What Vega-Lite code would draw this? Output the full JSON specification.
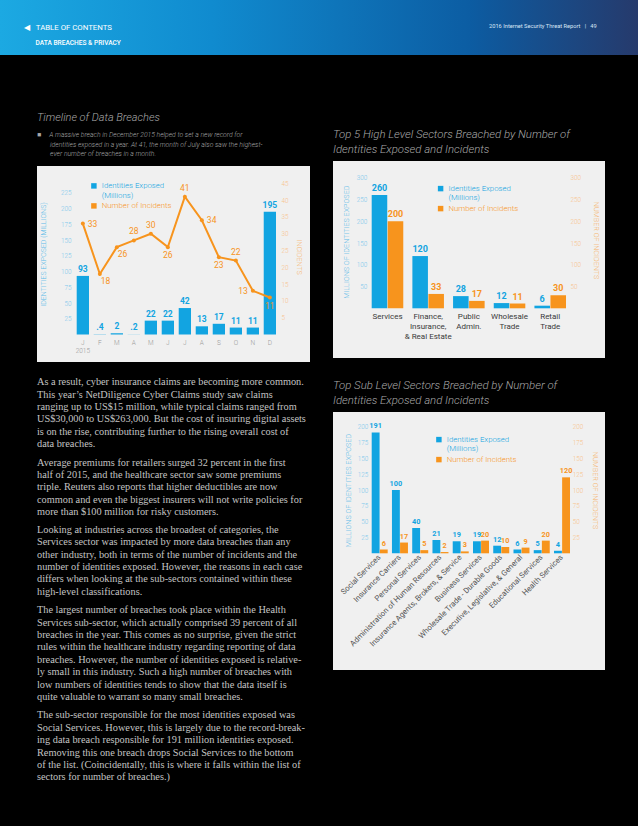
{
  "$schema": "https://vega.github.io/schema/vega-lite/v6.json",
  "background": "#000000",
  "padding": 0,
  "spacing": 0,
  "resolve": {"scale": {"color": "independent", "xOffset": "independent"}, "legend": {"color": "independent"}},
  "config": {
    "view": {"stroke": null},
    "font": "Roboto",
    "axis": {"domain": false, "ticks": false, "tickSize": 0, "grid": false, "labelPadding": 0, "labelFont": "Roboto", "labelFontWeight": 300, "labelFontSize": 6.3, "titleFont": "Roboto", "titleFontWeight": 300, "titleFontSize": 7, "labelOverlap": false, "labelFlush": false, "labelBound": false},
    "legend": {"padding": 0, "symbolType": "square", "symbolSize": 30, "symbolStrokeWidth": 0, "labelFont": "Roboto", "labelFontWeight": 300, "labelFontSize": 7.8, "labelLimit": 0, "labelOffset": 4, "rowPadding": 1, "labelBaseline": "top"}
  },
  "datasets": {
    "timeline": [
      {"month": "Jan", "identities": 93, "incidents": 33},
      {"month": "Feb", "identities": 0.4, "incidents": 18},
      {"month": "Mar", "identities": 2, "incidents": 26},
      {"month": "Apr", "identities": 0.2, "incidents": 28},
      {"month": "May", "identities": 22, "incidents": 30},
      {"month": "Jun", "identities": 22, "incidents": 26},
      {"month": "Jul", "identities": 42, "incidents": 41},
      {"month": "Aug", "identities": 13, "incidents": 34},
      {"month": "Sep", "identities": 17, "incidents": 23},
      {"month": "Oct", "identities": 11, "incidents": 22},
      {"month": "Nov", "identities": 11, "incidents": 13},
      {"month": "Dec", "identities": 195, "incidents": 11}
    ],
    "top5": [
      {"sector": "Services", "identities": 260, "incidents": 200},
      {"sector": "Finance, Insurance, & Real Estate", "identities": 120, "incidents": 33},
      {"sector": "Public Admin.", "identities": 28, "incidents": 17},
      {"sector": "Wholesale Trade", "identities": 12, "incidents": 11},
      {"sector": "Retail Trade", "identities": 6, "incidents": 30}
    ],
    "sub": [
      {"sector": "Social Services", "identities": 191, "incidents": 6},
      {"sector": "Insurance Carriers", "identities": 100, "incidents": 17},
      {"sector": "Personal Services", "identities": 40, "incidents": 5},
      {"sector": "Administration of Human Resources", "identities": 21, "incidents": 2},
      {"sector": "Insurance Agents, Brokers, & Service", "identities": 19, "incidents": 3},
      {"sector": "Business Services", "identities": 19, "incidents": 20},
      {"sector": "Wholesale Trade - Durable Goods", "identities": 12, "incidents": 10},
      {"sector": "Executive, Legislative, & General", "identities": 6, "incidents": 9},
      {"sector": "Educational Services", "identities": 5, "incidents": 20},
      {"sector": "Health Services", "identities": 4, "incidents": 120}
    ],
    "body": [
      {"p": 1, "line": 1, "text": "As a result, cyber insurance claims are becoming more common."},
      {"p": 1, "line": 2, "text": "This year’s NetDiligence Cyber Claims study saw claims"},
      {"p": 1, "line": 3, "text": "ranging up to US$15 million, while typical claims ranged from"},
      {"p": 1, "line": 4, "text": "US$30,000 to US$263,000. But the cost of insuring digital assets"},
      {"p": 1, "line": 5, "text": "is on the rise, contributing further to the rising overall cost of"},
      {"p": 1, "line": 6, "text": "data breaches."},
      {"p": 2, "line": 1, "text": "Average premiums for retailers surged 32 percent in the first"},
      {"p": 2, "line": 2, "text": "half of 2015, and the healthcare sector saw some premiums"},
      {"p": 2, "line": 3, "text": "triple. Reuters also reports that higher deductibles are now"},
      {"p": 2, "line": 4, "text": "common and even the biggest insurers will not write policies for"},
      {"p": 2, "line": 5, "text": "more than $100 million for risky customers."},
      {"p": 3, "line": 1, "text": "Looking at industries across the broadest of categories, the"},
      {"p": 3, "line": 2, "text": "Services sector was impacted by more data breaches than any"},
      {"p": 3, "line": 3, "text": "other industry, both in terms of the number of incidents and the"},
      {"p": 3, "line": 4, "text": "number of identities exposed. However, the reasons in each case"},
      {"p": 3, "line": 5, "text": "differs when looking at the sub-sectors contained within these"},
      {"p": 3, "line": 6, "text": "high-level classifications."},
      {"p": 4, "line": 1, "text": "The largest number of breaches took place within the Health"},
      {"p": 4, "line": 2, "text": "Services sub-sector, which actually comprised 39 percent of all"},
      {"p": 4, "line": 3, "text": "breaches in the year. This comes as no surprise, given the strict"},
      {"p": 4, "line": 4, "text": "rules within the healthcare industry regarding reporting of data"},
      {"p": 4, "line": 5, "text": "breaches. However, the number of identities exposed is relative-"},
      {"p": 4, "line": 6, "text": "ly small in this industry. Such a high number of breaches with"},
      {"p": 4, "line": 7, "text": "low numbers of identities tends to show that the data itself is"},
      {"p": 4, "line": 8, "text": "quite valuable to warrant so many small breaches."},
      {"p": 5, "line": 1, "text": "The sub-sector responsible for the most identities exposed was"},
      {"p": 5, "line": 2, "text": "Social Services. However, this is largely due to the record-break-"},
      {"p": 5, "line": 3, "text": "ing data breach responsible for 191 million identities exposed."},
      {"p": 5, "line": 4, "text": "Removing this one breach drops Social Services to the bottom"},
      {"p": 5, "line": 5, "text": "of the list. (Coincidentally, this is where it falls within the list of"},
      {"p": 5, "line": 6, "text": "sectors for number of breaches.)"}
    ]
  },
  "vconcat": [
    {
      "hconcat": [
        {
          "width": 470, "height": 55,
          "view": {"fill": {"gradient": "linear", "x1": 0, "y1": 0, "x2": 1, "y2": 0, "stops": [{"offset": 0, "color": "#1ca9e2"}, {"offset": 0.45, "color": "#108bcf"}, {"offset": 1, "color": "#0c5da3"}]}},
          "title": {"text": "◀\u00a0\u00a0\u00a0TABLE OF CONTENTS", "subtitle": "\u200b\u00a0\u00a0\u00a0\u00a0\u00a0\u00a0\u00a0DATA BREACHES & PRIVACY", "anchor": "start", "frame": "group", "orient": "top", "offset": -47, "dx": 24, "font": "Roboto", "fontSize": 7.8, "fontWeight": 400, "color": "#ffffff", "subtitleFont": "Roboto", "subtitleFontSize": 6.6, "subtitleFontWeight": 500, "subtitleColor": "#ffffff", "subtitlePadding": 9},
          "data": {"values": [{}]},
          "mark": {"type": "text", "text": ""}
        },
        {
          "width": 168, "height": 55,
          "view": {"fill": {"gradient": "linear", "x1": 0, "y1": 0, "x2": 1, "y2": 0, "stops": [{"offset": 0, "color": "#0c5ca2"}, {"offset": 1, "color": "#263a6c"}]}},
          "title": {"text": "2016 Internet Security Threat Report\u00a0\u00a0\u00a0|\u00a0\u00a0\u00a049", "anchor": "start", "frame": "group", "orient": "top", "offset": -29, "dx": 19, "font": "Roboto", "fontSize": 5.7, "fontWeight": 400, "color": "#d8e6f5"},
          "data": {"values": [{}]},
          "mark": {"type": "text", "text": ""}
        }
      ],
      "spacing": 0,
      "resolve": {"scale": {"color": "independent"}, "legend": {"color": "independent"}}
    },
    {
      "hconcat": [
        {"width": 37, "height": 40, "data": {"values": [{}]}, "mark": {"type": "text", "text": ""}},
        {
          "vconcat": [
            {
              "width": 273, "height": 111,
              "title": {
                "text": "Timeline of Data Breaches",
                "subtitle": ["■\u00a0\u00a0\u00a0\u00a0\u00a0A massive breach in December 2015 helped to set a new record for", "\u200b\u00a0\u00a0\u00a0\u00a0\u00a0\u00a0\u00a0\u00a0identities exposed in a year. At 41, the month of July also saw the highest-", "\u200b\u00a0\u00a0\u00a0\u00a0\u00a0\u00a0\u00a0\u00a0ever number of breaches in a month."],
                "anchor": "start", "frame": "group", "orient": "top", "offset": -103,
                "font": "Roboto", "fontSize": 11, "fontStyle": "italic", "fontWeight": 300, "color": "#a8a8a8",
                "subtitleFont": "Roboto", "subtitleFontSize": 6.8, "subtitleFontStyle": "italic", "subtitleFontWeight": 300, "subtitleColor": "#a8a8a8", "subtitleLineHeight": 9.4, "subtitlePadding": 9
              },
              "data": {"values": [{}]}, "mark": {"type": "text", "text": ""}
            },
            {
              "width": 273, "height": 196,
              "view": {"fill": "#f0f0f0"},
              "data": {"name": "timeline"},
              "encoding": {
                "x": {"field": "month", "type": "nominal", "sort": null,
                  "scale": {"range": [39.7, 239], "paddingInner": 0.278, "paddingOuter": 0},
                  "axis": {"title": null, "orient": "bottom", "offset": -22.2, "labelAngle": 0, "labelAlign": "center", "labelBaseline": "top", "labelColor": "#9a9a9a", "labelFontSize": 6.5, "labelLineHeight": 7.5, "labelOverlap": false,
                    "labelExpr": "datum.value == 'Jan' ? ['J', '2015'] : substring(datum.value, 0, 1)"}}
              },
              "layer": [
                {
                  "layer": [
                    {
                      "mark": {"type": "bar"},
                      "encoding": {
                        "y": {"field": "identities", "type": "quantitative",
                          "scale": {"domain": [0, 225], "range": [168.5, 17.3]},
                          "axis": {"orient": "left", "offset": -34, "values": [25, 50, 75, 100, 125, 150, 175, 200, 225], "tickCount": 30, "labelOverlap": false, "labelColor": "#7cc7ec", "title": "IDENTITIES EXPOSED (MILLIONS)", "titleColor": "#5cbbe8", "titleX": -27.7, "titleY": 88, "titleAngle": -90, "titleAlign": "center", "titleBaseline": "middle"}},
                        "color": {"datum": "Identities Exposed (Millions)",
                          "scale": {"domain": ["Identities Exposed (Millions)", "Number of Incidents"], "range": ["#12a4e1", "#f7941d"]},
                          "legend": {"title": null, "orient": "none", "legendX": 53, "legendY": 16, "direction": "vertical",
                            "labelExpr": "datum.value == 'Identities Exposed (Millions)' ? ['Identities Exposed', '(Millions)'] : datum.label",
                            "labelLineHeight": 9.7,
                            "encode": {
                              "symbols": {"update": {"shape": {"value": "square"}, "fill": {"signal": "datum.value == 'Number of Incidents' ? '#f7941d' : '#12a4e1'"}, "stroke": {"value": "transparent"}, "opacity": {"value": 1}}},
                              "labels": {"update": {"fill": {"signal": "datum.value == 'Number of Incidents' ? '#f7941d' : '#12a4e1'"}, "dy": {"value": -4}}}
                            }}}
                      }
                    },
                    {
                      "mark": {"type": "text", "baseline": "bottom", "dy": -2, "font": "Roboto", "fontWeight": "bold", "fontSize": 8.5, "color": "#12a4e1",
                        "text": {"expr": "datum.identities < 1 ? '.' + round(datum.identities * 10) : '' + datum.identities"}},
                      "encoding": {"y": {"field": "identities", "type": "quantitative"}}
                    }
                  ]
                },
                {
                  "layer": [
                    {
                      "mark": {"type": "line", "strokeWidth": 2},
                      "encoding": {
                        "y": {"field": "incidents", "type": "quantitative",
                          "scale": {"domain": [0, 45], "range": [168.5, 17.3]},
                          "axis": {"orient": "right", "offset": -29, "values": [5, 10, 15, 20, 25, 30, 35, 40, 45], "tickCount": 30, "labelOverlap": false, "labelColor": "#f8c28a", "title": "INCIDENTS", "titleColor": "#f6b46c", "titleX": 17, "titleY": 90.7, "titleAngle": 90, "titleAlign": "center", "titleBaseline": "middle"}},
                        "color": {"datum": "Number of Incidents"}
                      }
                    },
                    {
                      "mark": {"type": "point", "filled": true, "size": 16, "opacity": 1, "color": "#f7941d"},
                      "encoding": {"y": {"field": "incidents", "type": "quantitative"}}
                    },
                    {
                      "transform": [{"filter": "indexof(['Apr','May','Jul','Oct'], datum.month) >= 0"}],
                      "mark": {"type": "text", "baseline": "bottom", "align": "center", "dy": -4, "font": "Roboto", "fontSize": 8.5, "color": "#f7941d"},
                      "encoding": {"y": {"field": "incidents", "type": "quantitative"}, "text": {"field": "incidents", "type": "quantitative"}}
                    },
                    {
                      "transform": [{"filter": "indexof(['Jun','Sep','Dec'], datum.month) >= 0"}],
                      "mark": {"type": "text", "baseline": "top", "align": "center", "dy": 4, "font": "Roboto", "fontSize": 8.5, "color": "#f7941d"},
                      "encoding": {"y": {"field": "incidents", "type": "quantitative"}, "text": {"field": "incidents", "type": "quantitative"}}
                    },
                    {
                      "transform": [{"filter": "indexof(['Feb','Mar'], datum.month) >= 0"}],
                      "mark": {"type": "text", "baseline": "top", "align": "left", "dx": 1, "dy": 3, "font": "Roboto", "fontSize": 8.5, "color": "#f7941d"},
                      "encoding": {"y": {"field": "incidents", "type": "quantitative"}, "text": {"field": "incidents", "type": "quantitative"}}
                    },
                    {
                      "transform": [{"filter": "indexof(['Jan','Aug'], datum.month) >= 0"}],
                      "mark": {"type": "text", "baseline": "middle", "align": "left", "dx": 5, "font": "Roboto", "fontSize": 8.5, "color": "#f7941d"},
                      "encoding": {"y": {"field": "incidents", "type": "quantitative"}, "text": {"field": "incidents", "type": "quantitative"}}
                    },
                    {
                      "transform": [{"filter": "datum.month == 'Nov'"}],
                      "mark": {"type": "text", "baseline": "middle", "align": "right", "dx": -5, "font": "Roboto", "fontSize": 8.5, "color": "#f7941d"},
                      "encoding": {"y": {"field": "incidents", "type": "quantitative"}, "text": {"field": "incidents", "type": "quantitative"}}
                    }
                  ]
                }
              ],
              "resolve": {"scale": {"y": "independent"}}
            },
            {"width": 273, "height": 14, "data": {"values": [{}]}, "mark": {"type": "text", "text": ""}},
            {
              "vconcat": [
                {
                  "width": 296, "height": {"step": 12.4},
                  "data": {"name": "body"},
                  "transform": [{"filter": "datum.p == 1"}],
                  "mark": {"type": "text", "align": "left", "baseline": "middle", "font": "Liberation Serif", "fontSize": 10.3, "color": "#c4c4c4"},
                  "encoding": {"y": {"field": "line", "type": "ordinal", "axis": null}, "x": {"datum": 0, "type": "quantitative", "scale": {"domain": [0, 1], "range": [0, 268]}, "axis": null}, "text": {"field": "text"}}
                },
                {
                  "width": 296, "height": {"step": 12.4},
                  "data": {"name": "body"},
                  "transform": [{"filter": "datum.p == 2"}],
                  "mark": {"type": "text", "align": "left", "baseline": "middle", "font": "Liberation Serif", "fontSize": 10.3, "color": "#c4c4c4"},
                  "encoding": {"y": {"field": "line", "type": "ordinal", "axis": null}, "x": {"datum": 0, "type": "quantitative", "scale": {"domain": [0, 1], "range": [0, 268]}, "axis": null}, "text": {"field": "text"}}
                },
                {
                  "width": 296, "height": {"step": 12.4},
                  "data": {"name": "body"},
                  "transform": [{"filter": "datum.p == 3"}],
                  "mark": {"type": "text", "align": "left", "baseline": "middle", "font": "Liberation Serif", "fontSize": 10.3, "color": "#c4c4c4"},
                  "encoding": {"y": {"field": "line", "type": "ordinal", "axis": null}, "x": {"datum": 0, "type": "quantitative", "scale": {"domain": [0, 1], "range": [0, 268]}, "axis": null}, "text": {"field": "text"}}
                },
                {
                  "width": 296, "height": {"step": 12.4},
                  "data": {"name": "body"},
                  "transform": [{"filter": "datum.p == 4"}],
                  "mark": {"type": "text", "align": "left", "baseline": "middle", "font": "Liberation Serif", "fontSize": 10.3, "color": "#c4c4c4"},
                  "encoding": {"y": {"field": "line", "type": "ordinal", "axis": null}, "x": {"datum": 0, "type": "quantitative", "scale": {"domain": [0, 1], "range": [0, 268]}, "axis": null}, "text": {"field": "text"}}
                },
                {
                  "width": 296, "height": {"step": 12.4},
                  "data": {"name": "body"},
                  "transform": [{"filter": "datum.p == 5"}],
                  "mark": {"type": "text", "align": "left", "baseline": "middle", "font": "Liberation Serif", "fontSize": 10.3, "color": "#c4c4c4"},
                  "encoding": {"y": {"field": "line", "type": "ordinal", "axis": null}, "x": {"datum": 0, "type": "quantitative", "scale": {"domain": [0, 1], "range": [0, 268]}, "axis": null}, "text": {"field": "text"}}
                }
              ],
              "spacing": 5.3
            },
            {"width": 273, "height": 46, "data": {"values": [{}]}, "mark": {"type": "text", "text": ""}}
          ],
          "spacing": 0,
          "resolve": {"scale": {"color": "independent"}, "legend": {"color": "independent"}}
        },
        {
          "vconcat": [
            {
              "width": 272, "height": 106,
              "title": {"text": ["Top 5 High Level Sectors Breached by Number of", "Identities Exposed and Incidents"], "anchor": "start", "frame": "group", "orient": "top", "offset": -100, "font": "Roboto", "fontSize": 11.4, "fontStyle": "italic", "fontWeight": 300, "color": "#a8a8a8", "lineHeight": 14.3},
              "data": {"values": [{}]}, "mark": {"type": "text", "text": ""}
            },
            {
              "width": 272, "height": 197,
              "view": {"fill": "#f0f0f0"},
              "data": {"name": "top5"},
              "encoding": {
                "x": {"field": "sector", "type": "nominal", "sort": null,
                  "scale": {"range": [38.7, 233], "paddingInner": 0.224, "paddingOuter": 0},
                  "axis": {"title": null, "orient": "bottom", "offset": -45.8, "labelAngle": 0, "labelAlign": "center", "labelBaseline": "top", "labelColor": "#3a3a3a", "labelFontSize": 8, "labelFontWeight": 400, "labelLineHeight": 10, "labelOverlap": false,
                    "labelExpr": "datum.value == 'Finance, Insurance, & Real Estate' ? ['Finance,', 'Insurance,', '& Real Estate'] : datum.value == 'Services' ? 'Services' : split(datum.value, ' ')"}}
              },
              "layer": [
                {
                  "layer": [
                    {
                      "mark": {"type": "bar"},
                      "encoding": {
                        "xOffset": {"datum": "Identities Exposed (Millions)", "scale": {"domain": ["Identities Exposed (Millions)", "Number of Incidents"], "paddingInner": 0.03, "paddingOuter": 0}},
                        "y": {"field": "identities", "type": "quantitative",
                          "scale": {"domain": [0, 300], "range": [147.3, 16.7]},
                          "axis": {"orient": "left", "offset": -33.7, "values": [50, 100, 150, 200, 250, 300], "tickCount": 30, "labelOverlap": false, "labelColor": "#7cc7ec", "title": "MILLIONS OF IDENTITIES EXPOSED", "titleColor": "#5cbbe8", "titleX": -20, "titleY": 80.7, "titleAngle": -90, "titleAlign": "center", "titleBaseline": "middle", "titleFontSize": 7.2}},
                        "color": {"datum": "Identities Exposed (Millions)",
                          "scale": {"domain": ["Identities Exposed (Millions)", "Number of Incidents"], "range": ["#12a4e1", "#f7941d"]},
                          "legend": {"title": null, "orient": "none", "legendX": 103.7, "legendY": 23.7, "direction": "vertical",
                            "labelExpr": "datum.value == 'Identities Exposed (Millions)' ? ['Identities Exposed', '(Millions)'] : datum.label",
                            "labelLineHeight": 9.7,
                            "encode": {
                              "symbols": {"update": {"shape": {"value": "square"}, "fill": {"signal": "datum.value == 'Number of Incidents' ? '#f7941d' : '#12a4e1'"}, "stroke": {"value": "transparent"}, "opacity": {"value": 1}}},
                              "labels": {"update": {"fill": {"signal": "datum.value == 'Number of Incidents' ? '#f7941d' : '#12a4e1'"}, "dy": {"value": -4}}}
                            }}}
                      }
                    },
                    {
                      "mark": {"type": "text", "baseline": "bottom", "dy": -2, "font": "Roboto", "fontWeight": "bold", "fontSize": 9, "color": "#12a4e1"},
                      "encoding": {"xOffset": {"datum": "Identities Exposed (Millions)"}, "y": {"field": "identities", "type": "quantitative"}, "text": {"field": "identities", "type": "quantitative"}}
                    }
                  ]
                },
                {
                  "layer": [
                    {
                      "mark": {"type": "bar"},
                      "encoding": {
                        "xOffset": {"datum": "Number of Incidents"},
                        "y": {"field": "incidents", "type": "quantitative",
                          "scale": {"domain": [0, 300], "range": [147.3, 16.7]},
                          "axis": {"orient": "right", "offset": -35, "values": [50, 100, 150, 200, 250, 300], "tickCount": 30, "labelOverlap": false, "labelColor": "#f8c28a", "title": "NUMBER OF INCIDENTS", "titleColor": "#f6b46c", "titleX": 25, "titleY": 79, "titleAngle": 90, "titleAlign": "center", "titleBaseline": "middle", "titleFontSize": 7.2}},
                        "color": {"datum": "Number of Incidents"}
                      }
                    },
                    {
                      "mark": {"type": "text", "baseline": "bottom", "dy": -2, "font": "Roboto", "fontWeight": "bold", "fontSize": 9, "color": "#f7941d"},
                      "encoding": {"xOffset": {"datum": "Number of Incidents"}, "y": {"field": "incidents", "type": "quantitative"}, "text": {"field": "incidents", "type": "quantitative"}}
                    }
                  ]
                }
              ],
              "resolve": {"scale": {"y": "independent"}}
            },
            {
              "width": 272, "height": 54,
              "title": {"text": ["Top Sub Level Sectors Breached by Number of", "Identities Exposed and Incidents"], "anchor": "start", "frame": "group", "orient": "top", "offset": -48, "font": "Roboto", "fontSize": 11.4, "fontStyle": "italic", "fontWeight": 300, "color": "#a8a8a8", "lineHeight": 14.3},
              "data": {"values": [{}]}, "mark": {"type": "text", "text": ""}
            },
            {
              "width": 272, "height": 258,
              "view": {"fill": "#f0f0f0"},
              "data": {"name": "sub"},
              "encoding": {
                "x": {"field": "sector", "type": "nominal", "sort": null,
                  "scale": {"range": [38.7, 237], "paddingInner": 0.21, "paddingOuter": 0},
                  "axis": {"title": null, "orient": "bottom", "offset": -114, "labelAngle": -45, "labelAlign": "right", "labelBaseline": "middle", "labelColor": "#555555", "labelFontSize": 7.8, "labelFontWeight": 400, "labelOverlap": false}}
              },
              "layer": [
                {
                  "layer": [
                    {
                      "mark": {"type": "bar"},
                      "encoding": {
                        "xOffset": {"datum": "Identities Exposed (Millions)", "scale": {"domain": ["Identities Exposed (Millions)", "Number of Incidents"], "paddingInner": 0.03, "paddingOuter": 0}},
                        "y": {"field": "identities", "type": "quantitative",
                          "scale": {"domain": [0, 200], "range": [141.3, 14.7]},
                          "axis": {"orient": "left", "offset": -34.7, "values": [25, 50, 75, 100, 125, 150, 175, 200], "tickCount": 30, "labelOverlap": false, "labelColor": "#7cc7ec", "title": "MILLIONS OF IDENTITIES EXPOSED", "titleColor": "#5cbbe8", "titleX": -19.4, "titleY": 78, "titleAngle": -90, "titleAlign": "center", "titleBaseline": "middle", "titleFontSize": 7.2}},
                        "color": {"datum": "Identities Exposed (Millions)",
                          "scale": {"domain": ["Identities Exposed (Millions)", "Number of Incidents"], "range": ["#12a4e1", "#f7941d"]},
                          "legend": {"title": null, "orient": "none", "legendX": 102, "legendY": 23.7, "direction": "vertical",
                            "labelExpr": "datum.value == 'Identities Exposed (Millions)' ? ['Identities Exposed', '(Millions)'] : datum.label",
                            "labelLineHeight": 9.7,
                            "encode": {
                              "symbols": {"update": {"shape": {"value": "square"}, "fill": {"signal": "datum.value == 'Number of Incidents' ? '#f7941d' : '#12a4e1'"}, "stroke": {"value": "transparent"}, "opacity": {"value": 1}}},
                              "labels": {"update": {"fill": {"signal": "datum.value == 'Number of Incidents' ? '#f7941d' : '#12a4e1'"}, "dy": {"value": -4}}}
                            }}}
                      }
                    },
                    {
                      "mark": {"type": "text", "baseline": "bottom", "dy": -2, "font": "Roboto", "fontWeight": "bold", "fontSize": 7.3, "color": "#12a4e1"},
                      "encoding": {"xOffset": {"datum": "Identities Exposed (Millions)"}, "y": {"field": "identities", "type": "quantitative"}, "text": {"field": "identities", "type": "quantitative"}}
                    }
                  ]
                },
                {
                  "layer": [
                    {
                      "mark": {"type": "bar"},
                      "encoding": {
                        "xOffset": {"datum": "Number of Incidents"},
                        "y": {"field": "incidents", "type": "quantitative",
                          "scale": {"domain": [0, 200], "range": [141.3, 14.7]},
                          "axis": {"orient": "right", "offset": -32.7, "values": [25, 50, 75, 100, 125, 150, 175, 200], "tickCount": 30, "labelOverlap": false, "labelColor": "#f8c28a", "title": "NUMBER OF INCIDENTS", "titleColor": "#f6b46c", "titleX": 21.7, "titleY": 78, "titleAngle": 90, "titleAlign": "center", "titleBaseline": "middle", "titleFontSize": 7.2}},
                        "color": {"datum": "Number of Incidents"}
                      }
                    },
                    {
                      "mark": {"type": "text", "baseline": "bottom", "dy": -2, "font": "Roboto", "fontWeight": "bold", "fontSize": 7.3, "color": "#f7941d"},
                      "encoding": {"xOffset": {"datum": "Number of Incidents"}, "y": {"field": "incidents", "type": "quantitative"}, "text": {"field": "incidents", "type": "quantitative"}}
                    }
                  ]
                }
              ],
              "resolve": {"scale": {"y": "independent"}}
            }
          ],
          "spacing": 0,
          "resolve": {"scale": {"color": "independent", "xOffset": "independent"}, "legend": {"color": "independent"}}
        }
      ],
      "spacing": 0,
      "resolve": {"scale": {"color": "independent", "xOffset": "independent"}, "legend": {"color": "independent"}}
    }
  ]
}
